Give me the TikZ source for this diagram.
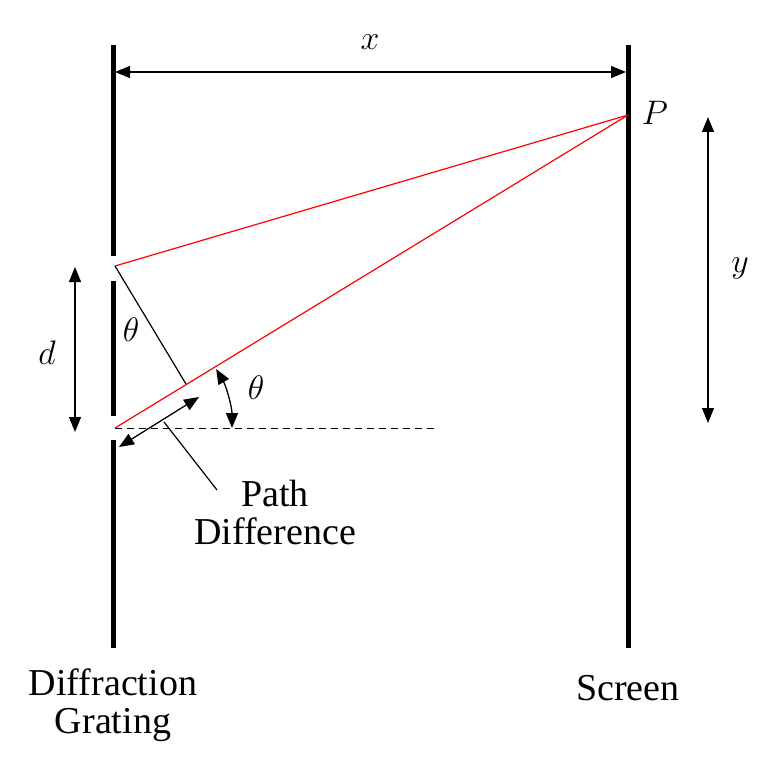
\documentclass[tikz,border=0pt]{standalone}
\usepackage{fix-cm}
\usepackage{fontspec}
\setmainfont{Liberation Serif}
\usetikzlibrary{arrows.meta,calc}
\begin{document}
\begin{tikzpicture}[x=1pt,y=-1pt,
  wall/.style={line width=5pt},
  ray/.style={red,line width=1.2pt},
  dim/.style={line width=1.3pt,{Triangle[length=15pt,width=12pt]}-{Triangle[length=15pt,width=12pt]}},
  lab/.style={font=\fontsize{34}{40}\selectfont},
  txt/.style={font=\fontsize{38}{44}\selectfont,align=center}]
\useasboundingbox (0,0) rectangle (782,770);
% grating
\draw[wall] (113,45) -- (113,256);
\draw[wall] (113,281) -- (113,416);
\draw[wall] (113,440) -- (113,648);
% screen
\draw[wall] (628,45) -- (628,648);
\coordinate (s1) at (115,266);
\coordinate (s2) at (115,428);
\coordinate (P) at (628,115);
\coordinate (f) at (186,384);
\draw[ray] (s1) -- (P);
\draw[ray] (s2) -- (P);
\draw[line width=1.2pt] (s1) -- (f);
\draw[line width=1pt,dash pattern=on 7pt off 5pt] (s2) -- (435,428);
% dimensions
\coordinate (xa) at (115,72); \coordinate (xb) at (626,72);
\draw[dim] (xa) -- (xb);
\node[lab] (xl) at (370,42) {$x$};
\node[lab] (Pl) at (655,113) {$P$};
\coordinate (ya) at (708,117); \coordinate (yb) at (708,423);
\draw[dim] (ya) -- (yb);
\node[lab] (yl) at (740,268) {$y$};
\coordinate (da) at (75,267); \coordinate (db) at (75,432);
\draw[dim] (da) -- (db);
\node[lab] (dl) at (47,353) {$d$};
\node[lab] (t1) at (131,330) {$\theta$};
\node[lab] (t2) at (256,388) {$\theta$};
% angle arc
\coordinate (aa) at (232,428);
\draw[dim] (aa) arc[start angle=0,end angle=-30,radius=118];
% path difference
\coordinate (pa) at (119,447); \coordinate (pb) at (199,397);
\draw[dim] (pa) -- (pb);
\coordinate (pp) at (164,422);
\node[txt] (pd) at (275,512) {Path\\[-6pt]Difference};
\draw[line width=1.2pt] (pp) -- (217,490);
\node[txt] (dg) at (113,705) {Diffraction\\[-6pt]Grating};
\node[txt] (sc) at (628,688) {Screen};
\end{tikzpicture}
\end{document}
